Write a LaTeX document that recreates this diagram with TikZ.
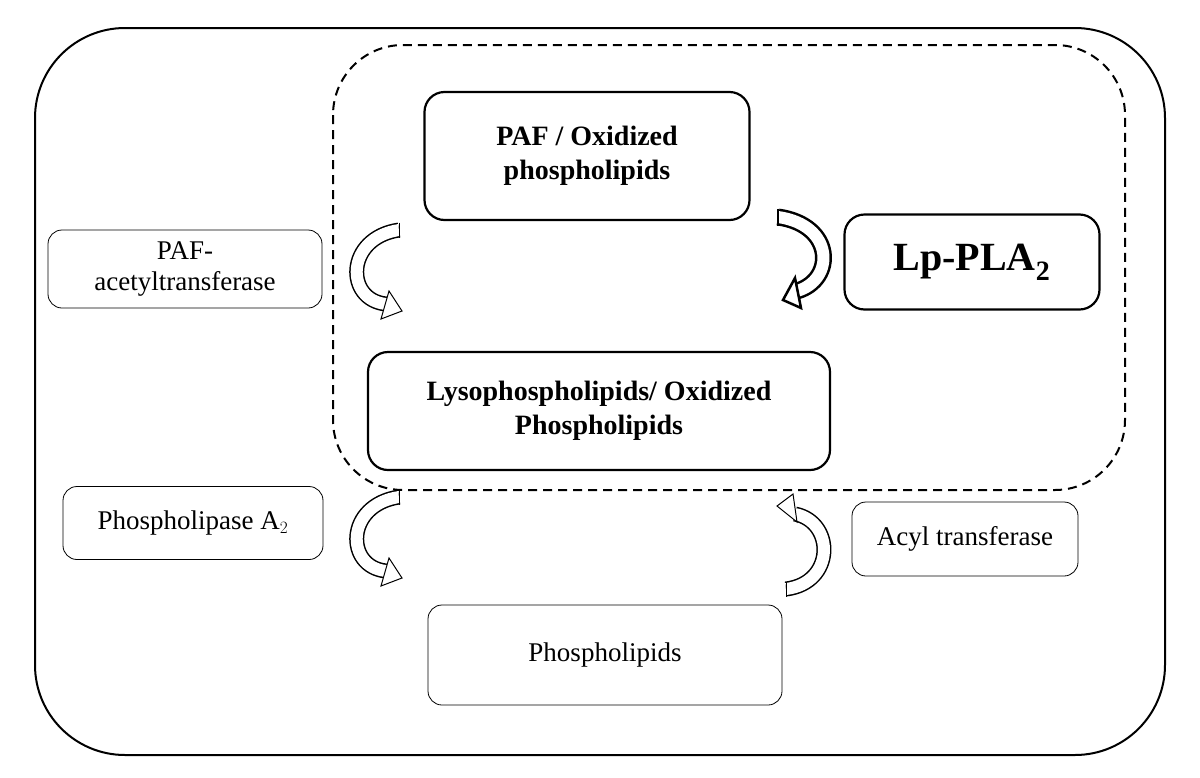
\documentclass[tikz,border=0pt]{standalone}
\usepackage{fontspec}
\setmainfont{Liberation Serif}
\begin{document}
\begin{tikzpicture}[x=1pt,y=-1pt,
  thinbox/.style={draw,rounded corners=14pt,line width=0.8pt,align=center,font=\fontsize{27}{31}\selectfont,inner sep=0pt},
  boldbox/.style={draw,rounded corners=20pt,line width=2.2pt,align=center,font=\fontsize{28}{34}\selectfont\bfseries,inner sep=0pt},
  body/.style={line width=#1},
  head/.style={draw,fill=white,line join=miter}]
\useasboundingbox (0,0) rectangle (1200,777);
\draw[line width=2pt,rounded corners=90pt] (35,28) rectangle (1165,755);
\draw[line width=2pt,dash pattern=on 9pt off 6pt,rounded corners=70pt] (333,45) rectangle (1125,490);
\node[boldbox,minimum width=325pt,minimum height=128pt] (paf) at (587,156) {PAF / Oxidized\\phospholipids};
\node[boldbox,minimum width=255pt,minimum height=95pt,font=\fontsize{40}{44}\selectfont\bfseries] (lp) at (972,262) {Lp-PLA$_\mathbf{2}$};
\node[boldbox,minimum width=462pt,minimum height=118pt] (lyso) at (599,411) {Lysophospholipids/ Oxidized\\Phospholipids};
\node[thinbox,minimum width=274pt,minimum height=78pt] (pat) at (185,269) {PAF-\\acetyltransferase};
\node[thinbox,minimum width=260pt,minimum height=73pt] (pla) at (193,523) {Phospholipase A$_2$};
\node[thinbox,minimum width=226pt,minimum height=74pt] (acyl) at (965,539) {Acyl transferase};
\node[thinbox,minimum width=354pt,minimum height=100pt] (phos) at (605,655) {Phospholipids};
% curved block arrows: black wide stroke + white inner stroke + head
\newcommand{\carrow}[7]{% #1 start, #2 c1, #3 c2, #4 end, #5 tip, #6 barb1, #7 barb2
  \draw[line width=15pt] #1 .. controls #2 and #3 .. #4;
  \draw[white,line width=12pt] #1 .. controls #2 and #3 .. #4;
}
% top-left
\carrow{(399,230)}{(345,238)}{(345,300)}{(386,304)}{}{}{}
\draw[line width=1pt] (399,222.5)--(399,237.5);
\draw[head,line width=1pt] (381,319)--(402,311)--(389,291)--cycle;
% bottom-left
\carrow{(399,497)}{(345,505)}{(345,567)}{(386,571)}{}{}{}
\draw[line width=1pt] (399,489.5)--(399,504.5);
\draw[head,line width=1pt] (381,586)--(402,578)--(389,558)--cycle;
% top-right (thick)
\draw[line width=17pt] (778,217) .. controls (835,225) and (835,280) .. (797,291);
\draw[white,line width=12pt] (778,217) .. controls (835,225) and (835,280) .. (797,291);
\draw[line width=2.5pt] (778,208.5)--(778,225.5);
\draw[head,line width=2.5pt] (783,300)--(795,278)--(801,308)--cycle;
% bottom-right
\draw[line width=15pt] (786,589) .. controls (835,583) and (835,522) .. (795,514);
\draw[white,line width=12pt] (786,589) .. controls (835,583) and (835,522) .. (795,514);
\draw[line width=1pt] (786,581.5)--(786,596.5);
\draw[head,line width=1pt] (777,506)--(793,494)--(797,522)--cycle;
\end{tikzpicture}
\end{document}
